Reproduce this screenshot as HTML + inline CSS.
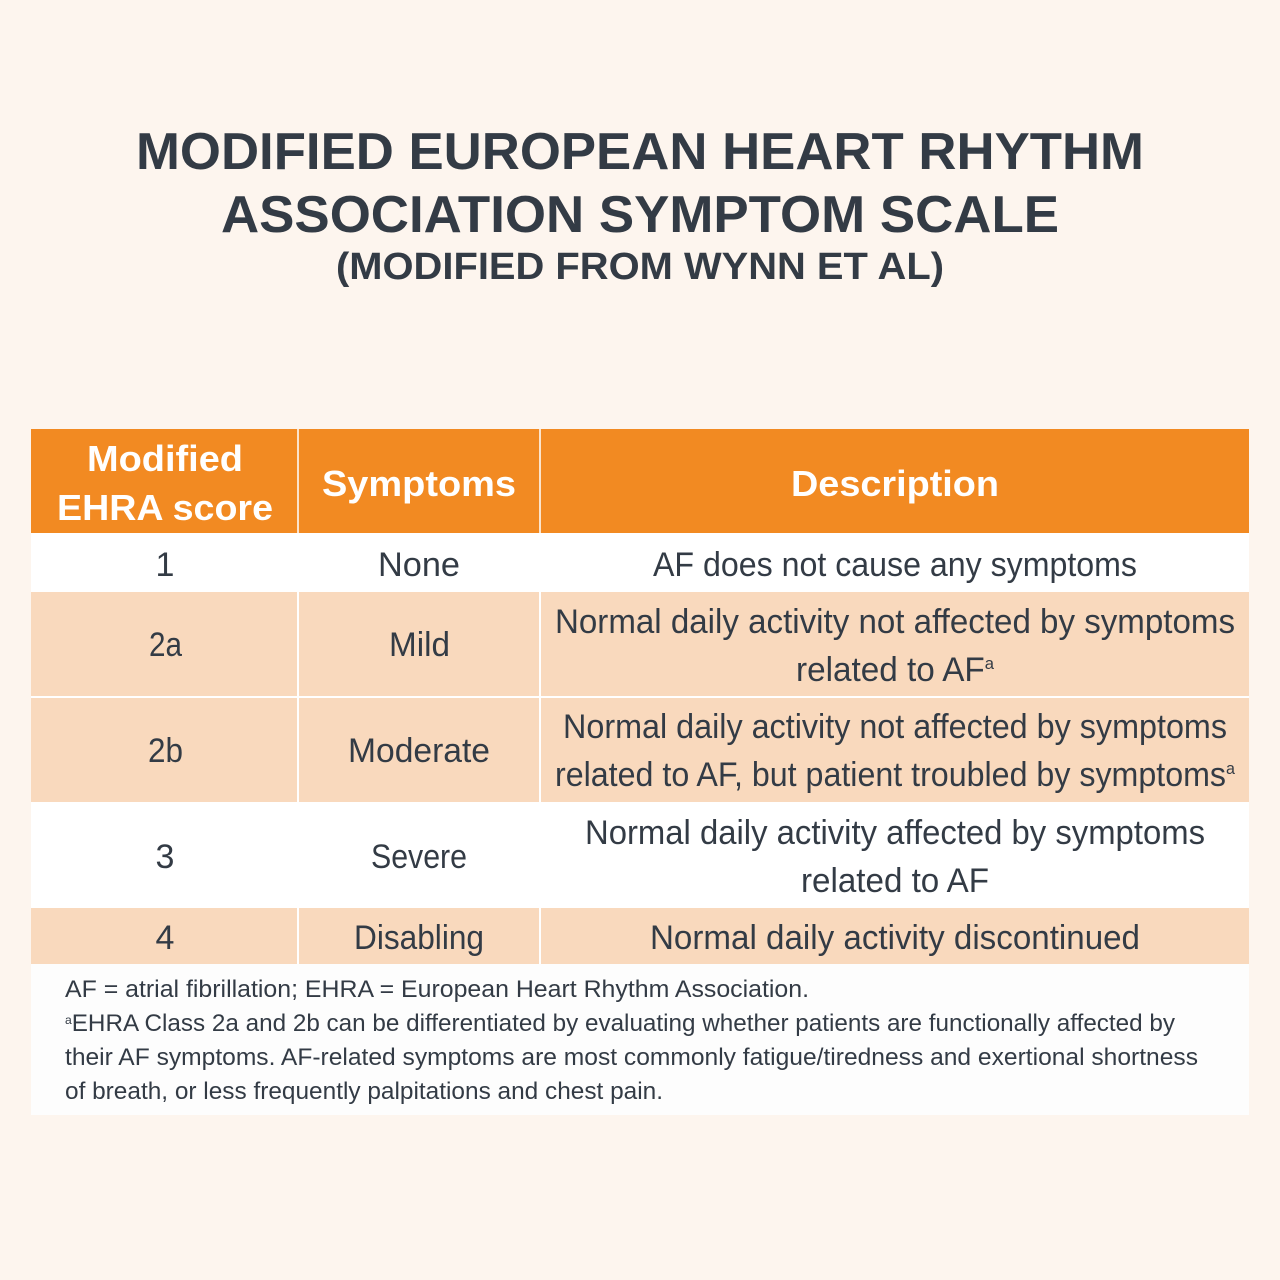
<!DOCTYPE html>
<html><head><meta charset="utf-8"><style>
html,body{margin:0;padding:0}
body{width:1280px;height:1280px;background:#fdf5ee;position:relative;overflow:hidden;font-family:"Liberation Sans",sans-serif;color:#333b45}
.t{position:absolute;white-space:nowrap;transform-origin:left top;line-height:1}
.title{font-weight:bold;color:#333b45}
.cell{position:absolute}
.hd{color:#fff;font-weight:bold}
sup{font-size:0.5em;vertical-align:top;position:relative;top:2px}
</style></head><body>
<div class="t title" data-cx="640" data-w="1008" style="top:126px;font-size:52px">MODIFIED EUROPEAN HEART RHYTHM</div>
<div class="t title" data-cx="640" data-w="838" style="top:189px;font-size:52px">ASSOCIATION SYMPTOM SCALE</div>
<div class="t title" data-cx="640" data-w="608" style="top:248px;font-size:38px">(MODIFIED FROM WYNN ET AL)</div>

<div>
<div class="cell" style="left:31px;top:429px;width:1218px;height:104px;background:#f28a22"></div>
<div class="cell" style="left:31px;top:533px;width:1218px;height:59px;background:#fff"></div>
<div class="cell" style="left:31px;top:592px;width:1218px;height:105px;background:#f9d9bd"></div>
<div class="cell" style="left:31px;top:698px;width:1218px;height:104px;background:#f9d9bd"></div>
<div class="cell" style="left:31px;top:802px;width:1218px;height:106px;background:#fff"></div>
<div class="cell" style="left:31px;top:908px;width:1218px;height:56px;background:#f9d9bd"></div>
<div class="cell" style="left:31px;top:964px;width:1218px;height:151px;background:#fdfdfd"></div>
<div class="cell" style="left:297px;top:429px;width:2px;height:104px;background:#fbe3cc"></div>
<div class="cell" style="left:539px;top:429px;width:2px;height:104px;background:#fbe3cc"></div>
<div class="cell" style="left:297px;top:592px;width:2px;height:372px;background:#fff"></div>
<div class="cell" style="left:539px;top:592px;width:2px;height:372px;background:#fff"></div>
<div class="cell" style="left:31px;top:696px;width:1218px;height:2px;background:#fff"></div>

<div class="t hd" data-cx="165" data-w="156" style="top:441px;font-size:36px">Modified</div>
<div class="t hd" data-cx="165" data-w="216" style="top:490px;font-size:36px">EHRA score</div>
<div class="t hd" data-cx="419" data-w="194" style="top:466px;font-size:36px">Symptoms</div>
<div class="t hd" data-cx="895" data-w="208" style="top:466px;font-size:36px">Description</div>

<div class="t" data-cx="165" style="top:548px;font-size:34px">1</div>
<div class="t" data-cx="419" data-w="82" style="top:548px;font-size:34px">None</div>
<div class="t" data-cx="895" data-w="484" style="top:548px;font-size:34px">AF does not cause any symptoms</div>

<div class="t" data-cx="165" data-w="33" style="top:628px;font-size:34px">2a</div>
<div class="t" data-cx="419" data-w="61" style="top:628px;font-size:34px">Mild</div>
<div class="t" data-cx="895" data-w="680" style="top:605px;font-size:34px">Normal daily activity not affected by symptoms</div>
<div class="t" data-cx="895" data-w="198" style="top:653px;font-size:34px">related to AF<sup>a</sup></div>

<div class="t" data-cx="165" data-w="35" style="top:734px;font-size:34px">2b</div>
<div class="t" data-cx="419" data-w="142" style="top:734px;font-size:34px">Moderate</div>
<div class="t" data-cx="895" data-w="664" style="top:710px;font-size:34px">Normal daily activity not affected by symptoms</div>
<div class="t" data-cx="895" data-w="680" style="top:758px;font-size:34px">related to AF, but patient troubled by symptoms<sup>a</sup></div>

<div class="t" data-cx="165" style="top:840px;font-size:34px">3</div>
<div class="t" data-cx="419" data-w="96" style="top:840px;font-size:34px">Severe</div>
<div class="t" data-cx="895" data-w="620" style="top:816px;font-size:34px">Normal daily activity affected by symptoms</div>
<div class="t" data-cx="895" data-w="188" style="top:864px;font-size:34px">related to AF</div>

<div class="t" data-cx="165" style="top:921px;font-size:34px">4</div>
<div class="t" data-cx="419" data-w="130" style="top:921px;font-size:34px">Disabling</div>
<div class="t" data-cx="895" data-w="490" style="top:921px;font-size:34px">Normal daily activity discontinued</div>
</div>

<div>
<div class="t" data-x="65" data-w="744" style="top:978px;font-size:24px">AF = atrial fibrillation; EHRA = European Heart Rhythm Association.</div>
<div class="t" data-x="65" data-w="1110" style="top:1012px;font-size:24px"><sup>a</sup>EHRA Class 2a and 2b can be differentiated by evaluating whether patients are functionally affected by</div>
<div class="t" data-x="65" data-w="1133" style="top:1046px;font-size:24px">their AF symptoms. AF-related symptoms are most commonly fatigue/tiredness and exertional shortness</div>
<div class="t" data-x="65" data-w="598" style="top:1080px;font-size:24px">of breath, or less frequently palpitations and chest pain.</div>
</div>
<script>
document.querySelectorAll('.t').forEach(function(el){
  var w=el.getBoundingClientRect().width;
  var target=el.dataset.w?parseFloat(el.dataset.w):w;
  var s=target/w;
  el.style.transform='scaleX('+s+')';
  if(el.dataset.cx){el.style.left=(parseFloat(el.dataset.cx)-target/2)+'px';}
  else if(el.dataset.x){el.style.left=el.dataset.x+'px';}
});
</script>
</body></html>
